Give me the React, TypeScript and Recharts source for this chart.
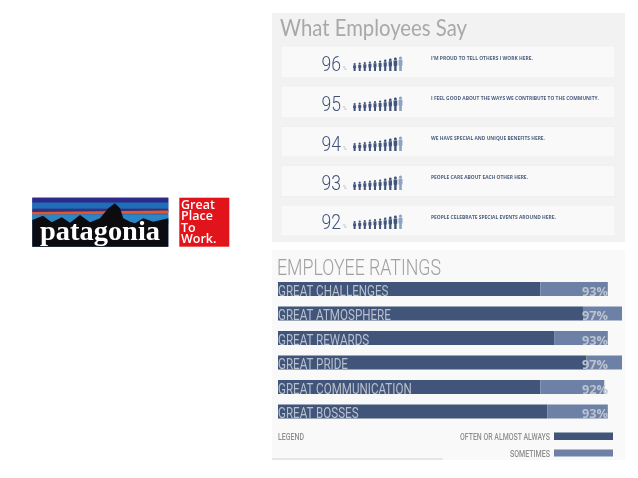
import React from "react";
import { BarChart, Bar, XAxis, YAxis, LabelList, Cell } from "recharts";

const sayPercents = [96, 95, 94, 93, 92];
const sayStatements = [
  "I'M PROUD TO TELL OTHERS I WORK HERE.",
  "I FEEL GOOD ABOUT THE WAYS WE CONTRIBUTE TO THE COMMUNITY.",
  "WE HAVE SPECIAL AND UNIQUE BENEFITS HERE.",
  "PEOPLE CARE ABOUT EACH OTHER HERE.",
  "PEOPLE CELEBRATE SPECIAL EVENTS AROUND HERE.",
];
const personHeights = [8, 8.5, 9, 9.5, 10, 10.5, 11.5, 12.5, 13.5, 14.5];

const ratingCategories = [
  "GREAT CHALLENGES",
  "GREAT ATMOSPHERE",
  "GREAT REWARDS",
  "GREAT PRIDE",
  "GREAT COMMUNICATION",
  "GREAT BOSSES",
];
const oftenValues = [74, 86, 78, 87, 74, 76];
const sometimesValues = [19, 11, 15, 10, 18, 17];
const printedTotals = [93, 97, 93, 97, 92, 93];

const DARK = "#41557a";
const LIGHT = "#6c81a5";
const ratingRows = ratingCategories.map((name, i) => ({
  name,
  often: oftenValues[i],
  sometimes: sometimesValues[i],
  total: printedTotals[i] + "%",
}));
const personRows = personHeights.map((h, i) => ({ id: i, h }));

const cardTops = [46, 86, 126.5, 165.5, 205];
const cardHeights = [32, 32, 30.5, 31, 31];
const baselines = [70.5, 110.5, 150.5, 189.5, 229];
const statementY = [60, 100, 139.5, 179, 218.5];
const statementWidths = [102, 168, 114, 97, 125];

const Person = (props: any) => {
  const { x, y, width, height, fill } = props;
  const cx = x + width / 2;
  const r = Math.max(1.1, height * 0.11);
  const w = Math.max(3, height * 0.27);
  const bodyTop = y + 2 * r + 0.1;
  const hip = bodyTop + (height - 2 * r) * 0.5;
  const bottom = y + height;
  const path = `M${cx - w / 2},${bodyTop} L${cx + w / 2},${bodyTop} L${cx + w / 2},${hip} L${cx + w / 3},${hip} L${cx + w / 3},${bottom} L${cx - w / 3},${bottom} L${cx - w / 3},${hip} L${cx - w / 2},${hip} Z`;
  return (
    <g fill={fill}>
      <circle cx={cx} cy={y + r} r={r} />
      <path d={path} />
    </g>
  );
};

const CategoryLabel = (props: any) => {
  const { x, y, height, value } = props;
  return (
    <text
      transform={`translate(${x},${y + height / 2 + 6.5}) scale(0.75,1)`}
      fontFamily="Roboto"
      fontSize={15.5}
      fill="#b9c0cd"
    >
      {value}
    </text>
  );
};

const TotalLabel = (props: any) => {
  const { y, height, value } = props;
  return (
    <text
      x={304}
      y={y + height / 2 + 6.5}
      fontFamily="Open Sans"
      fontWeight={700}
      fontSize={13}
      textLength={26}
      lengthAdjust="spacingAndGlyphs"
      fill="#bcc3d0"
    >
      {value}
    </text>
  );
};

const ridge =
  "32.3,220 43,215.7 51.7,222.3 61.7,217.3 70,222.7 80,215 90,222.3 100,218.3 108.3,208.3 115,203.3 120,208.3 123.3,218.3 130,221.7 135,223.3 143.3,218.3 153.3,221.7 168.3,218.3 168.3,246.7 32.3,246.7";

const Logos = () => (
  <g>
    <rect x={32.3} y={197.7} width={136} height={49} fill="#2a5fa8" />
    <rect x={32.3} y={197.7} width={136} height={5} fill="#2c2a8a" />
    <rect x={32.3} y={202.7} width={136} height={6} fill="#1f6eb8" />
    <rect x={32.3} y={208.7} width={136} height={3.5} fill="#33307c" />
    <polygon points="32.3,212 168.3,210.5 168.3,213.5 32.3,214.8" fill="#e2562a" />
    <rect x={32.3} y={214.5} width={136} height={10} fill="#2a86c4" />
    <polygon points={ridge} fill="#0c0c10" />
    <text
      x={40}
      y={240}
      fontFamily="Liberation Serif"
      fontWeight={700}
      fontSize={28}
      textLength={120}
      lengthAdjust="spacingAndGlyphs"
      fill="#ffffff"
    >
      patagonia
    </text>
    <rect x={179.3} y={197.7} width={50} height={49} fill="#e1141b" />
    {["Great", "Place", "To", "Work."].map((t, i) => (
      <text
        key={t}
        x={181}
        y={[208.5, 220, 231.7, 243][i]}
        fontFamily="Open Sans"
        fontWeight={600}
        fontSize={12.5}
        fill="#ffffff"
      >
        {t}
      </text>
    ))}
  </g>
);

const Backdrop = () => (
  <svg width={638} height={478} style={{ position: "absolute", left: 0, top: 0 }}>
    <Logos />
    <rect x={272} y={13} width={353} height={229} fill="#f2f2f2" />
    <text x={280} y={36} fontFamily="Lato" fontSize={23.5} textLength={187} lengthAdjust="spacingAndGlyphs" fill="#a8a8a8">
      What Employees Say
    </text>
    {sayPercents.map((p, i) => (
      <g key={p}>
        <rect x={281} y={cardTops[i]} width={334} height={cardHeights[i]} fill="#f9f9fa" stroke="#efefef" />
        <text x={321.5} y={baselines[i]} fontFamily="Roboto" fontWeight={300} fontSize={21} textLength={19.5} lengthAdjust="spacingAndGlyphs" fill="#3f5378">
          {p}
        </text>
        <text x={343} y={baselines[i] - 1} fontFamily="Roboto" fontSize={5} fill="#a9b3c6">
          %
        </text>
        <text x={431} y={statementY[i]} fontFamily="Open Sans" fontWeight={700} fontSize={4.6} textLength={statementWidths[i]} lengthAdjust="spacingAndGlyphs" fill="#4d5d7e">
          {sayStatements[i]}
        </text>
      </g>
    ))}
    <rect x={272} y={250} width={353} height={210} fill="#f9f9f9" />
    <rect x={272} y={458.5} width={171} height={1} fill="#d4d4d4" />
    <text x={277} y={275} fontFamily="Roboto" fontWeight={300} fontSize={22} textLength={164} lengthAdjust="spacingAndGlyphs" fill="#a0a0a0">
      EMPLOYEE RATINGS
    </text>
    <text x={278} y={439.5} fontFamily="Roboto" fontWeight={500} fontSize={8.5} textLength={26} lengthAdjust="spacingAndGlyphs" fill="#8e8e8e">
      LEGEND
    </text>
    <text x={460} y={439.5} fontFamily="Roboto" fontWeight={500} fontSize={9} textLength={90} lengthAdjust="spacingAndGlyphs" fill="#8e8e8e">
      OFTEN OR ALMOST ALWAYS
    </text>
    <text x={510} y={456.5} fontFamily="Roboto" fontWeight={500} fontSize={9} textLength={40} lengthAdjust="spacingAndGlyphs" fill="#8e8e8e">
      SOMETIMES
    </text>
    <rect x={554} y={432.5} width={59} height={7.5} fill={DARK} />
    <rect x={554} y={449.5} width={59} height={7} fill={LIGHT} />
  </svg>
);

export default function App() {
  return (
    <div style={{ position: "absolute", left: 0, top: 0, width: 638, height: 478, background: "#fff", overflow: "hidden", filter: "blur(0.35px)" }}>
      <Backdrop />
      {sayPercents.map((p, i) => (
        <div key={p} style={{ position: "absolute", left: 351.5, top: baselines[i] - 16, width: 51, height: 16 }}>
          <BarChart width={51} height={16} data={personRows} layout="horizontal" margin={{ top: 0, right: 0, bottom: 0, left: 0 }} barCategoryGap={0.6}>
            <XAxis dataKey="id" type="category" hide />
            <YAxis type="number" domain={[0, 16]} hide />
            <Bar dataKey="h" isAnimationActive={false} shape={<Person />}>
              {personRows.map((r, k) => (
                <Cell key={r.id} fill={k === personRows.length - 1 ? "#8fa2c0" : DARK} />
              ))}
            </Bar>
          </BarChart>
        </div>
      ))}
      <div style={{ position: "absolute", left: 278, top: 277.25 }}>
        <BarChart width={344} height={147} data={ratingRows} layout="vertical" margin={{ top: 0, right: 0, bottom: 0, left: 0 }} barSize={14}>
          <XAxis type="number" domain={[0, 97]} hide />
          <YAxis type="category" dataKey="name" hide />
          <Bar dataKey="often" stackId="a" fill={DARK} isAnimationActive={false}>
            <LabelList dataKey="name" content={<CategoryLabel />} />
          </Bar>
          <Bar dataKey="sometimes" stackId="a" fill={LIGHT} isAnimationActive={false}>
            <LabelList dataKey="total" content={<TotalLabel />} />
          </Bar>
        </BarChart>
      </div>
    </div>
  );
}
